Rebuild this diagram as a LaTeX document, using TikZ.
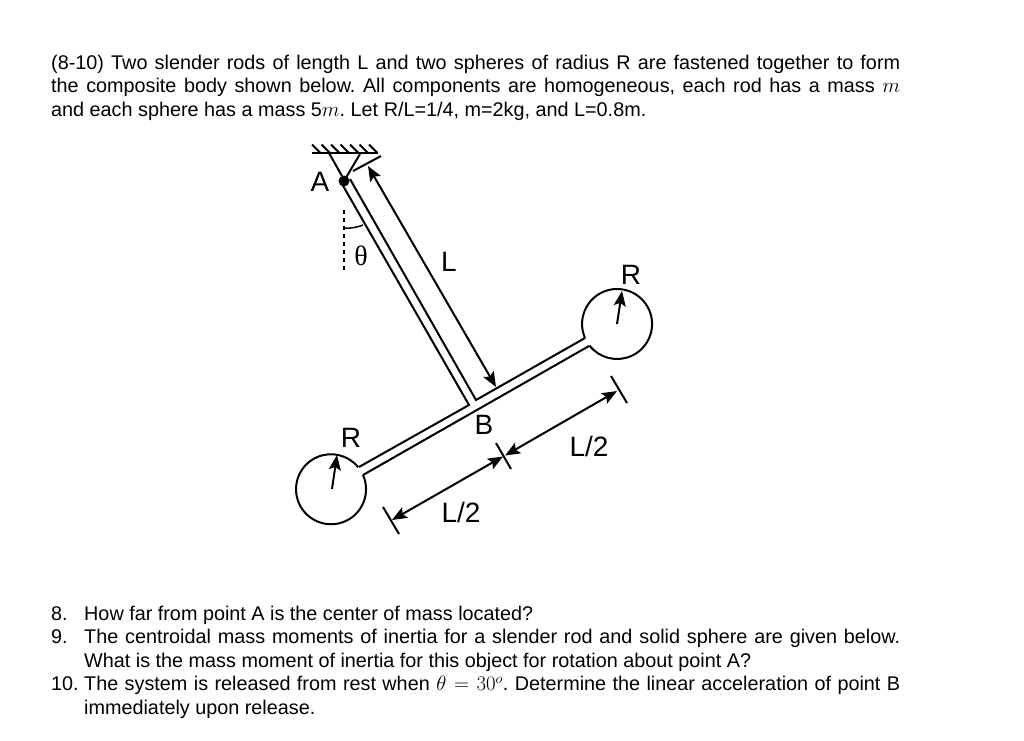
\documentclass[tikz,border=0pt]{standalone}
\usepackage{fontspec}
\setmainfont{Liberation Sans}
\newfontfamily\thetafont{Liberation Serif}
\usetikzlibrary{arrows.meta}
\frenchspacing
\tikzset{
    body/.style={anchor=north west, inner sep=0pt, align=justify, font=\fontsize{19.8}{23.4}\selectfont},
    lbl/.style={inner sep=0pt, font=\fontsize{28}{30}\selectfont},
    rod/.style={line width=2},
    dim/.style={line width=2, {Stealth[length=15pt,width=12pt,inset=3pt]}-{Stealth[length=15pt,width=12pt,inset=3pt]}},
    rad/.style={line width=2, -{Stealth[length=15pt,width=12pt,inset=3pt]}}
}
\begin{document}
\begin{tikzpicture}[x=1pt,y=-1pt]
    \useasboundingbox (0,0) rectangle (1024,740);
    % text
    \node (intro) at (51,52.7) [body, text width=849] {\strut(8-10) Two slender rods of length L and two spheres of radius R are fastened together to form\linebreak the composite body shown below. All components are homogeneous, each rod has a mass \(m\)\linebreak and each sphere has a mass 5\(m\). Let R/L=1/4, m=2kg, and L=0.8m.};
    \node (num8) at (51,604.3) [body] {\strut 8.};
    \node (num9) at (51,627.3) [body] {\strut 9.};
    \node (num10) at (51,674.3) [body] {\strut 10.};
    \node (item8) at (84,604.3) [body, text width=816] {\strut How far from point A is the center of mass located?};
    \node (item9) at (84,627.3) [body, text width=816] {\strut The centroidal mass moments of inertia for a slender rod and solid sphere are given below.\linebreak What is the mass moment of inertia for this object for rotation about point A?};
    \node (item10) at (84,674.3) [body, text width=816] {\strut The system is released from rest when \(\theta=30^o\). Determine the linear acceleration of point B\linebreak immediately upon release.};

    % support
    \draw [rod] (312,153)--(378,153);
    \foreach \hx in {312,321.5,331,340.5,350,359.5,369}
        \draw [line width=1.8] (\hx,144.5)--++(8.5,8.5);
    \coordinate (pinA) at (344,181);
    \draw [rod] (329,153)--(342,176);
    \draw [rod] (360,154)--(pinA);
    \node (A) at (pinA) [circle, fill=black, inner sep=0pt, minimum size=11] {};

    % rods
    \draw [rod] (342,184)--(469,405)--(359,467);
    \draw [rod] (350,179)--(476,400)--(585,338);
    \draw [rod] (363,475)--(589,346);

    % spheres
    \coordinate (sphL) at (332,489);
    \coordinate (sphR) at (617,324);
    \draw [rod] (363,475) arc [start angle=-24, end angle=321, radius=35];
    \draw [rod] (585,338) arc [start angle=156.4, end angle=501.8, radius=35];
    \coordinate (topL) at (337,455);
    \coordinate (topR) at (622,291);
    \draw [rad] (sphL)--(topL);
    \draw [rad] (sphR)--(topR);

    % angle
    \draw [line width=2, dashed, dash pattern=on 4pt off 4pt] (344,210)--(344,271);
    \draw [line width=1.5] (345,228) .. controls (352,228.5) and (358,227) .. (363,225);
    \node (theta) at (361,256) [lbl] {\thetafont θ};

    % dimensions
    \draw [rod] (353,171)--(381,156);
    \draw [dim] (368,166)--(496,387);
    \draw [rod] (383,507)--(399,534);
    \draw [rod] (496,443)--(511,469);
    \draw [rod] (611,376)--(627,403);
    \draw [dim] (392,520)--(503,456.5);
    \draw [dim] (505,455.5)--(617,391);

    % labels
    \node (labA) at (320,182) [lbl] {A};
    \node (labL) at (449,262) [lbl] {L};
    \node (labR1) at (631,275) [lbl] {R};
    \node (labR2) at (351,438) [lbl] {R};
    \node (labB) at (484,425) [lbl] {B};
    \node (labH1) at (589,446) [lbl] {L/2};
    \node (labH2) at (461,512) [lbl] {L/2};
\end{tikzpicture}
\end{document}
